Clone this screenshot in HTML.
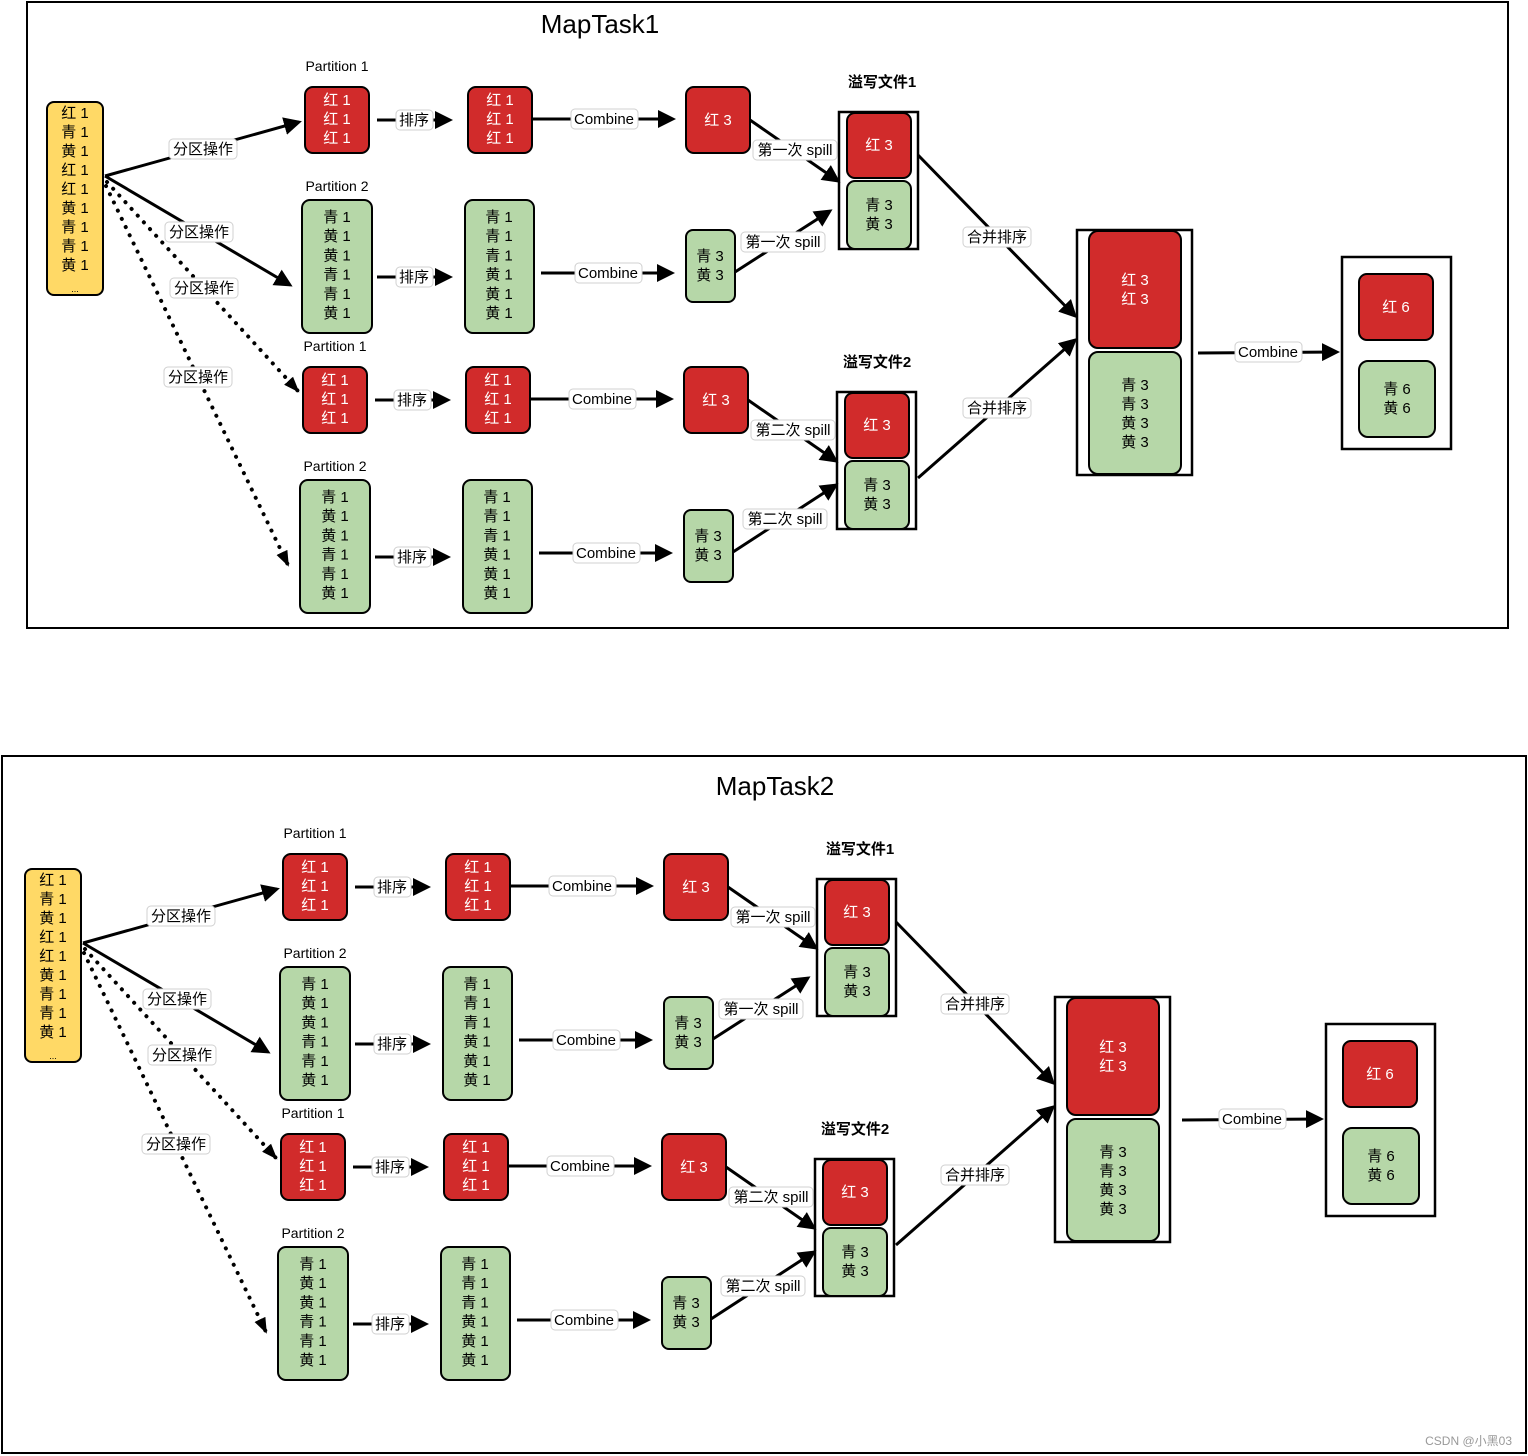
<!DOCTYPE html>
<html><head><meta charset="utf-8"><style>
html,body{margin:0;padding:0;background:#fff;}
svg{display:block;}
text{font-family:"Liberation Sans","Noto Sans CJK SC",sans-serif;font-size:15px;}
.r{fill:#d12b2b;stroke:#000;stroke-width:2;}
.g{fill:#b6d7a8;stroke:#000;stroke-width:2;}
.y{fill:#ffd966;stroke:#000;stroke-width:2;}
.o{fill:#fff;stroke:#000;stroke-width:2.5;}
.w{fill:#fff;text-anchor:middle;}
.k{fill:#000;text-anchor:middle;}
.ln{stroke:#000;stroke-width:3;fill:none;marker-end:url(#ah);}
.dt{stroke:#000;stroke-width:4;fill:none;stroke-dasharray:0.1 9;stroke-linecap:round;marker-end:url(#ah2);}
.lb{fill:#fff;stroke:#d0d0d0;stroke-width:1;}
.pl{fill:#000;text-anchor:middle;font-size:14px;}
.ti{fill:#000;text-anchor:middle;font-size:26px;}
.sf{fill:#000;text-anchor:middle;font-size:15px;font-weight:bold;}
</style></head><body>
<svg width="1528" height="1456" viewBox="0 0 1528 1456" xmlns="http://www.w3.org/2000/svg">
<defs><marker id="ah" markerWidth="6" markerHeight="6" refX="5" refY="3" orient="auto" markerUnits="strokeWidth"><path d="M0,0 L6,3 L0,6 z" fill="#000"/></marker>
<marker id="ah2" markerWidth="16" markerHeight="14" refX="14" refY="7" orient="auto" markerUnits="userSpaceOnUse"><path d="M0,1 L16,7 L0,13 z" fill="#000"/></marker></defs>

<!-- Diagram 1 -->
<rect x="27" y="2" width="1481" height="626" fill="#fff" stroke="#000" stroke-width="2"/>
<text x="600" y="33" class="ti">MapTask1</text>
<g>
<rect x="47" y="102" width="56" height="193" rx="7" class="y"/>
<text class="k" y="118"><tspan x="75">红 1</tspan><tspan x="75" dy="19">青 1</tspan><tspan x="75" dy="19">黄 1</tspan><tspan x="75" dy="19">红 1</tspan><tspan x="75" dy="19">红 1</tspan><tspan x="75" dy="19">黄 1</tspan><tspan x="75" dy="19">青 1</tspan><tspan x="75" dy="19">青 1</tspan><tspan x="75" dy="19">黄 1</tspan><tspan x="75" dy="22" style="font-size:9px">...</tspan></text>
<line x1="105" y1="176" x2="299" y2="122" class="ln"/>
<line x1="105" y1="176" x2="290" y2="285" class="ln"/>
<line x1="107" y1="182" x2="298" y2="391" class="dt"/>
<line x1="106" y1="186" x2="288" y2="565" class="dt"/>
<rect x="169" y="139" width="68" height="20" rx="4" class="lb"/><text x="203" y="154" class="k">分区操作</text>
<rect x="165" y="222" width="68" height="20" rx="4" class="lb"/><text x="199" y="237" class="k">分区操作</text>
<rect x="170" y="278" width="68" height="20" rx="4" class="lb"/><text x="204" y="293" class="k">分区操作</text>
<rect x="164" y="367" width="68" height="20" rx="4" class="lb"/><text x="198" y="382" class="k">分区操作</text>

<text x="337" y="71" class="pl">Partition 1</text>
<rect x="305" y="87" width="64" height="66" rx="8" class="r"/>
<text class="w" y="105"><tspan x="337">红 1</tspan><tspan x="337" dy="19">红 1</tspan><tspan x="337" dy="19">红 1</tspan></text>
<line x1="377" y1="120" x2="450" y2="120" class="ln"/>
<rect x="396" y="110" width="37" height="20" rx="4" class="lb"/><text x="414" y="125" class="k">排序</text>
<rect x="468" y="87" width="64" height="66" rx="8" class="r"/>
<text class="w" y="105"><tspan x="500">红 1</tspan><tspan x="500" dy="19">红 1</tspan><tspan x="500" dy="19">红 1</tspan></text>
<line x1="533" y1="119" x2="673" y2="119" class="ln"/>
<rect x="571" y="109" width="67" height="20" rx="4" class="lb"/><text x="604" y="124" class="k">Combine</text>
<rect x="686" y="87" width="64" height="66" rx="8" class="r"/><text x="718" y="125" class="w">红 3</text>

<text x="337" y="191" class="pl">Partition 2</text>
<rect x="302" y="200" width="70" height="133" rx="8" class="g"/>
<text class="k" y="222"><tspan x="337">青 1</tspan><tspan x="337" dy="19.2">黄 1</tspan><tspan x="337" dy="19.2">黄 1</tspan><tspan x="337" dy="19.2">青 1</tspan><tspan x="337" dy="19.2">青 1</tspan><tspan x="337" dy="19.2">黄 1</tspan></text>
<line x1="377" y1="277" x2="450" y2="277" class="ln"/>
<rect x="396" y="267" width="37" height="20" rx="4" class="lb"/><text x="414" y="282" class="k">排序</text>
<rect x="465" y="200" width="69" height="133" rx="8" class="g"/>
<text class="k" y="222"><tspan x="499">青 1</tspan><tspan x="499" dy="19.2">青 1</tspan><tspan x="499" dy="19.2">青 1</tspan><tspan x="499" dy="19.2">黄 1</tspan><tspan x="499" dy="19.2">黄 1</tspan><tspan x="499" dy="19.2">黄 1</tspan></text>
<line x1="541" y1="273" x2="672" y2="273" class="ln"/>
<rect x="575" y="263" width="67" height="20" rx="4" class="lb"/><text x="608" y="278" class="k">Combine</text>
<rect x="686" y="230" width="49" height="72" rx="7" class="g"/>
<text class="k" y="261"><tspan x="710">青 3</tspan><tspan x="710" dy="19">黄 3</tspan></text>

<text x="882" y="87" class="sf">溢写文件1</text>
<rect x="839" y="112" width="79" height="137" class="o"/>
<rect x="847" y="113" width="64" height="65" rx="8" class="r"/><text x="879" y="150" class="w">红 3</text>
<rect x="847" y="181" width="64" height="68" rx="8" class="g"/>
<text class="k" y="210"><tspan x="879">青 3</tspan><tspan x="879" dy="19">黄 3</tspan></text>
<line x1="750" y1="120" x2="838" y2="181" class="ln"/>
<line x1="735" y1="272" x2="830" y2="211" class="ln"/>
<rect x="753" y="140" width="84" height="20" rx="4" class="lb"/><text x="795" y="155" class="k">第一次 spill</text>
<rect x="741" y="232" width="84" height="20" rx="4" class="lb"/><text x="783" y="247" class="k">第一次 spill</text>

<text x="335" y="351" class="pl">Partition 1</text>
<rect x="303" y="367" width="64" height="66" rx="8" class="r"/>
<text class="w" y="385"><tspan x="335">红 1</tspan><tspan x="335" dy="19">红 1</tspan><tspan x="335" dy="19">红 1</tspan></text>
<line x1="375" y1="400" x2="448" y2="400" class="ln"/>
<rect x="394" y="390" width="37" height="20" rx="4" class="lb"/><text x="412" y="405" class="k">排序</text>
<rect x="466" y="367" width="64" height="66" rx="8" class="r"/>
<text class="w" y="385"><tspan x="498">红 1</tspan><tspan x="498" dy="19">红 1</tspan><tspan x="498" dy="19">红 1</tspan></text>
<line x1="531" y1="399" x2="671" y2="399" class="ln"/>
<rect x="569" y="389" width="67" height="20" rx="4" class="lb"/><text x="602" y="404" class="k">Combine</text>
<rect x="684" y="367" width="64" height="66" rx="8" class="r"/><text x="716" y="405" class="w">红 3</text>

<text x="335" y="471" class="pl">Partition 2</text>
<rect x="300" y="480" width="70" height="133" rx="8" class="g"/>
<text class="k" y="502"><tspan x="335">青 1</tspan><tspan x="335" dy="19.2">黄 1</tspan><tspan x="335" dy="19.2">黄 1</tspan><tspan x="335" dy="19.2">青 1</tspan><tspan x="335" dy="19.2">青 1</tspan><tspan x="335" dy="19.2">黄 1</tspan></text>
<line x1="375" y1="557" x2="448" y2="557" class="ln"/>
<rect x="394" y="547" width="37" height="20" rx="4" class="lb"/><text x="412" y="562" class="k">排序</text>
<rect x="463" y="480" width="69" height="133" rx="8" class="g"/>
<text class="k" y="502"><tspan x="497">青 1</tspan><tspan x="497" dy="19.2">青 1</tspan><tspan x="497" dy="19.2">青 1</tspan><tspan x="497" dy="19.2">黄 1</tspan><tspan x="497" dy="19.2">黄 1</tspan><tspan x="497" dy="19.2">黄 1</tspan></text>
<line x1="539" y1="553" x2="670" y2="553" class="ln"/>
<rect x="573" y="543" width="67" height="20" rx="4" class="lb"/><text x="606" y="558" class="k">Combine</text>
<rect x="684" y="510" width="49" height="72" rx="7" class="g"/>
<text class="k" y="541"><tspan x="708">青 3</tspan><tspan x="708" dy="19">黄 3</tspan></text>

<text x="877" y="367" class="sf">溢写文件2</text>
<rect x="837" y="392" width="79" height="137" class="o"/>
<rect x="845" y="393" width="64" height="65" rx="8" class="r"/><text x="877" y="430" class="w">红 3</text>
<rect x="845" y="461" width="64" height="68" rx="8" class="g"/>
<text class="k" y="490"><tspan x="877">青 3</tspan><tspan x="877" dy="19">黄 3</tspan></text>
<line x1="748" y1="400" x2="836" y2="461" class="ln"/>
<line x1="733" y1="552" x2="836" y2="485" class="ln"/>
<rect x="751" y="420" width="84" height="20" rx="4" class="lb"/><text x="793" y="435" class="k">第二次 spill</text>
<rect x="743" y="509" width="84" height="20" rx="4" class="lb"/><text x="785" y="524" class="k">第二次 spill</text>

<line x1="918" y1="155" x2="1075" y2="316" class="ln"/>
<line x1="918" y1="478" x2="1075" y2="340" class="ln"/>
<rect x="963" y="227" width="68" height="20" rx="4" class="lb"/><text x="997" y="242" class="k">合并排序</text>
<rect x="963" y="398" width="68" height="20" rx="4" class="lb"/><text x="997" y="413" class="k">合并排序</text>

<rect x="1077" y="230" width="115" height="245" class="o"/>
<rect x="1089" y="231" width="92" height="117" rx="9" class="r"/>
<text class="w" y="285"><tspan x="1135">红 3</tspan><tspan x="1135" dy="19">红 3</tspan></text>
<rect x="1089" y="352" width="92" height="122" rx="9" class="g"/>
<text class="k" y="390"><tspan x="1135">青 3</tspan><tspan x="1135" dy="19">青 3</tspan><tspan x="1135" dy="19">黄 3</tspan><tspan x="1135" dy="19">黄 3</tspan></text>
<line x1="1198" y1="353" x2="1337" y2="352" class="ln"/>
<rect x="1235" y="342" width="67" height="20" rx="4" class="lb"/><text x="1268" y="357" class="k">Combine</text>
<rect x="1342" y="257" width="109" height="192" class="o"/>
<rect x="1359" y="274" width="74" height="66" rx="8" class="r"/><text x="1396" y="312" class="w">红 6</text>
<rect x="1359" y="361" width="76" height="76" rx="9" class="g"/>
<text class="k" y="394"><tspan x="1397">青 6</tspan><tspan x="1397" dy="19">黄 6</tspan></text>
</g>

<!-- Diagram 2 -->
<rect x="2" y="756" width="1524" height="697" fill="#fff" stroke="#000" stroke-width="2"/>
<text x="775" y="795" class="ti">MapTask2</text>
<g transform="translate(-22,767)">
<rect x="47" y="102" width="56" height="193" rx="7" class="y"/>
<text class="k" y="118"><tspan x="75">红 1</tspan><tspan x="75" dy="19">青 1</tspan><tspan x="75" dy="19">黄 1</tspan><tspan x="75" dy="19">红 1</tspan><tspan x="75" dy="19">红 1</tspan><tspan x="75" dy="19">黄 1</tspan><tspan x="75" dy="19">青 1</tspan><tspan x="75" dy="19">青 1</tspan><tspan x="75" dy="19">黄 1</tspan><tspan x="75" dy="22" style="font-size:9px">...</tspan></text>
<line x1="105" y1="176" x2="299" y2="122" class="ln"/>
<line x1="105" y1="176" x2="290" y2="285" class="ln"/>
<line x1="107" y1="182" x2="298" y2="391" class="dt"/>
<line x1="106" y1="186" x2="288" y2="565" class="dt"/>
<rect x="169" y="139" width="68" height="20" rx="4" class="lb"/><text x="203" y="154" class="k">分区操作</text>
<rect x="165" y="222" width="68" height="20" rx="4" class="lb"/><text x="199" y="237" class="k">分区操作</text>
<rect x="170" y="278" width="68" height="20" rx="4" class="lb"/><text x="204" y="293" class="k">分区操作</text>
<rect x="164" y="367" width="68" height="20" rx="4" class="lb"/><text x="198" y="382" class="k">分区操作</text>

<text x="337" y="71" class="pl">Partition 1</text>
<rect x="305" y="87" width="64" height="66" rx="8" class="r"/>
<text class="w" y="105"><tspan x="337">红 1</tspan><tspan x="337" dy="19">红 1</tspan><tspan x="337" dy="19">红 1</tspan></text>
<line x1="377" y1="120" x2="450" y2="120" class="ln"/>
<rect x="396" y="110" width="37" height="20" rx="4" class="lb"/><text x="414" y="125" class="k">排序</text>
<rect x="468" y="87" width="64" height="66" rx="8" class="r"/>
<text class="w" y="105"><tspan x="500">红 1</tspan><tspan x="500" dy="19">红 1</tspan><tspan x="500" dy="19">红 1</tspan></text>
<line x1="533" y1="119" x2="673" y2="119" class="ln"/>
<rect x="571" y="109" width="67" height="20" rx="4" class="lb"/><text x="604" y="124" class="k">Combine</text>
<rect x="686" y="87" width="64" height="66" rx="8" class="r"/><text x="718" y="125" class="w">红 3</text>

<text x="337" y="191" class="pl">Partition 2</text>
<rect x="302" y="200" width="70" height="133" rx="8" class="g"/>
<text class="k" y="222"><tspan x="337">青 1</tspan><tspan x="337" dy="19.2">黄 1</tspan><tspan x="337" dy="19.2">黄 1</tspan><tspan x="337" dy="19.2">青 1</tspan><tspan x="337" dy="19.2">青 1</tspan><tspan x="337" dy="19.2">黄 1</tspan></text>
<line x1="377" y1="277" x2="450" y2="277" class="ln"/>
<rect x="396" y="267" width="37" height="20" rx="4" class="lb"/><text x="414" y="282" class="k">排序</text>
<rect x="465" y="200" width="69" height="133" rx="8" class="g"/>
<text class="k" y="222"><tspan x="499">青 1</tspan><tspan x="499" dy="19.2">青 1</tspan><tspan x="499" dy="19.2">青 1</tspan><tspan x="499" dy="19.2">黄 1</tspan><tspan x="499" dy="19.2">黄 1</tspan><tspan x="499" dy="19.2">黄 1</tspan></text>
<line x1="541" y1="273" x2="672" y2="273" class="ln"/>
<rect x="575" y="263" width="67" height="20" rx="4" class="lb"/><text x="608" y="278" class="k">Combine</text>
<rect x="686" y="230" width="49" height="72" rx="7" class="g"/>
<text class="k" y="261"><tspan x="710">青 3</tspan><tspan x="710" dy="19">黄 3</tspan></text>

<text x="882" y="87" class="sf">溢写文件1</text>
<rect x="839" y="112" width="79" height="137" class="o"/>
<rect x="847" y="113" width="64" height="65" rx="8" class="r"/><text x="879" y="150" class="w">红 3</text>
<rect x="847" y="181" width="64" height="68" rx="8" class="g"/>
<text class="k" y="210"><tspan x="879">青 3</tspan><tspan x="879" dy="19">黄 3</tspan></text>
<line x1="750" y1="120" x2="838" y2="181" class="ln"/>
<line x1="735" y1="272" x2="830" y2="211" class="ln"/>
<rect x="753" y="140" width="84" height="20" rx="4" class="lb"/><text x="795" y="155" class="k">第一次 spill</text>
<rect x="741" y="232" width="84" height="20" rx="4" class="lb"/><text x="783" y="247" class="k">第一次 spill</text>

<text x="335" y="351" class="pl">Partition 1</text>
<rect x="303" y="367" width="64" height="66" rx="8" class="r"/>
<text class="w" y="385"><tspan x="335">红 1</tspan><tspan x="335" dy="19">红 1</tspan><tspan x="335" dy="19">红 1</tspan></text>
<line x1="375" y1="400" x2="448" y2="400" class="ln"/>
<rect x="394" y="390" width="37" height="20" rx="4" class="lb"/><text x="412" y="405" class="k">排序</text>
<rect x="466" y="367" width="64" height="66" rx="8" class="r"/>
<text class="w" y="385"><tspan x="498">红 1</tspan><tspan x="498" dy="19">红 1</tspan><tspan x="498" dy="19">红 1</tspan></text>
<line x1="531" y1="399" x2="671" y2="399" class="ln"/>
<rect x="569" y="389" width="67" height="20" rx="4" class="lb"/><text x="602" y="404" class="k">Combine</text>
<rect x="684" y="367" width="64" height="66" rx="8" class="r"/><text x="716" y="405" class="w">红 3</text>

<text x="335" y="471" class="pl">Partition 2</text>
<rect x="300" y="480" width="70" height="133" rx="8" class="g"/>
<text class="k" y="502"><tspan x="335">青 1</tspan><tspan x="335" dy="19.2">黄 1</tspan><tspan x="335" dy="19.2">黄 1</tspan><tspan x="335" dy="19.2">青 1</tspan><tspan x="335" dy="19.2">青 1</tspan><tspan x="335" dy="19.2">黄 1</tspan></text>
<line x1="375" y1="557" x2="448" y2="557" class="ln"/>
<rect x="394" y="547" width="37" height="20" rx="4" class="lb"/><text x="412" y="562" class="k">排序</text>
<rect x="463" y="480" width="69" height="133" rx="8" class="g"/>
<text class="k" y="502"><tspan x="497">青 1</tspan><tspan x="497" dy="19.2">青 1</tspan><tspan x="497" dy="19.2">青 1</tspan><tspan x="497" dy="19.2">黄 1</tspan><tspan x="497" dy="19.2">黄 1</tspan><tspan x="497" dy="19.2">黄 1</tspan></text>
<line x1="539" y1="553" x2="670" y2="553" class="ln"/>
<rect x="573" y="543" width="67" height="20" rx="4" class="lb"/><text x="606" y="558" class="k">Combine</text>
<rect x="684" y="510" width="49" height="72" rx="7" class="g"/>
<text class="k" y="541"><tspan x="708">青 3</tspan><tspan x="708" dy="19">黄 3</tspan></text>

<text x="877" y="367" class="sf">溢写文件2</text>
<rect x="837" y="392" width="79" height="137" class="o"/>
<rect x="845" y="393" width="64" height="65" rx="8" class="r"/><text x="877" y="430" class="w">红 3</text>
<rect x="845" y="461" width="64" height="68" rx="8" class="g"/>
<text class="k" y="490"><tspan x="877">青 3</tspan><tspan x="877" dy="19">黄 3</tspan></text>
<line x1="748" y1="400" x2="836" y2="461" class="ln"/>
<line x1="733" y1="552" x2="836" y2="485" class="ln"/>
<rect x="751" y="420" width="84" height="20" rx="4" class="lb"/><text x="793" y="435" class="k">第二次 spill</text>
<rect x="743" y="509" width="84" height="20" rx="4" class="lb"/><text x="785" y="524" class="k">第二次 spill</text>

<line x1="918" y1="155" x2="1075" y2="316" class="ln"/>
<line x1="918" y1="478" x2="1075" y2="340" class="ln"/>
<rect x="963" y="227" width="68" height="20" rx="4" class="lb"/><text x="997" y="242" class="k">合并排序</text>
<rect x="963" y="398" width="68" height="20" rx="4" class="lb"/><text x="997" y="413" class="k">合并排序</text>

<rect x="1077" y="230" width="115" height="245" class="o"/>
<rect x="1089" y="231" width="92" height="117" rx="9" class="r"/>
<text class="w" y="285"><tspan x="1135">红 3</tspan><tspan x="1135" dy="19">红 3</tspan></text>
<rect x="1089" y="352" width="92" height="122" rx="9" class="g"/>
<text class="k" y="390"><tspan x="1135">青 3</tspan><tspan x="1135" dy="19">青 3</tspan><tspan x="1135" dy="19">黄 3</tspan><tspan x="1135" dy="19">黄 3</tspan></text>
<g transform="translate(6,0)">
<line x1="1198" y1="353" x2="1337" y2="352" class="ln"/>
<rect x="1235" y="342" width="67" height="20" rx="4" class="lb"/><text x="1268" y="357" class="k">Combine</text>
<rect x="1342" y="257" width="109" height="192" class="o"/>
<rect x="1359" y="274" width="74" height="66" rx="8" class="r"/><text x="1396" y="312" class="w">红 6</text>
<rect x="1359" y="361" width="76" height="76" rx="9" class="g"/>
<text class="k" y="394"><tspan x="1397">青 6</tspan><tspan x="1397" dy="19">黄 6</tspan></text>
</g>
</g>
<text x="1512" y="1445" style="font-size:12px;fill:#999;text-anchor:end">CSDN @小黑03</text>
</svg>
</body></html>
